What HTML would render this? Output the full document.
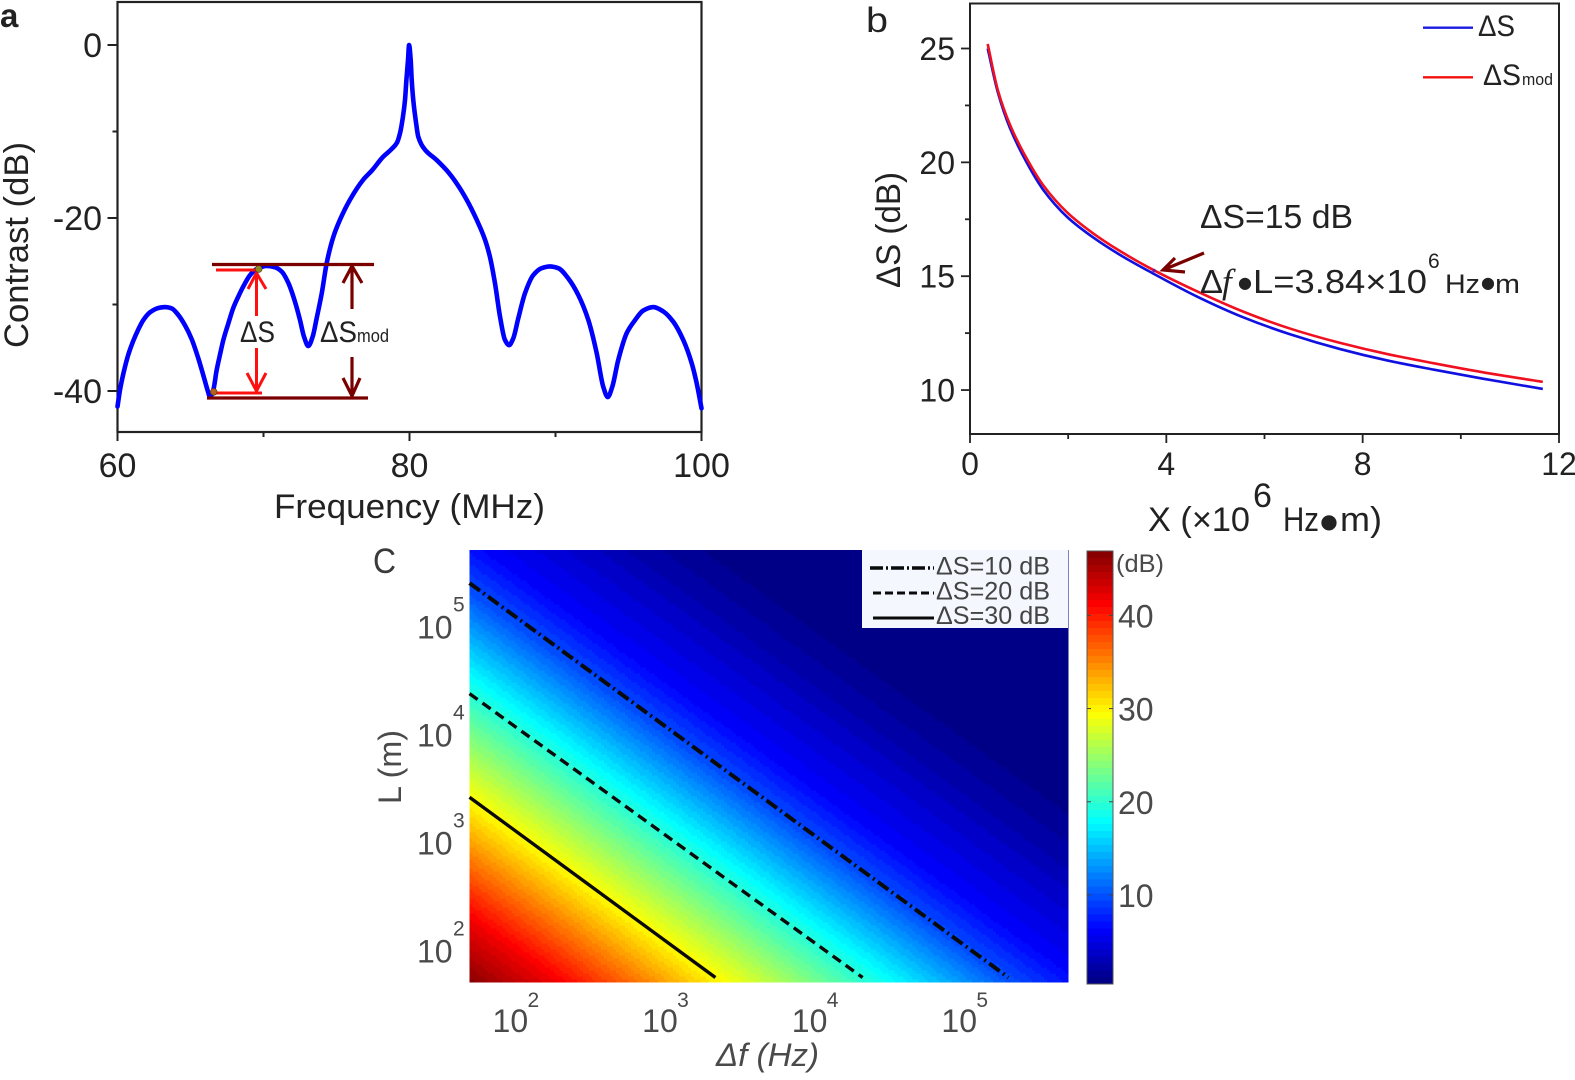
<!DOCTYPE html>
<html lang="en">
<head>
<meta charset="utf-8">
<title>Contrast, delta S and heatmap figure</title>
<style>
html,body{margin:0;padding:0;background:#fff;}
svg{display:block;font-family:"Liberation Sans",sans-serif;}
.dot{font-family:"DejaVu Sans",sans-serif;}
</style>
</head>
<body>
<svg id="fig" xmlns="http://www.w3.org/2000/svg" width="1575" height="1080" viewBox="0 0 1575 1080">
  <rect x="0" y="0" width="1575" height="1080" fill="#ffffff"/>
  <g id="panelA"></g>
  <g id="panelB"></g>
  <g id="panelC"></g>

  <g fill="#222">
    <text x="0" y="27" font-size="33" font-weight="bold">a</text>
    <text x="274" y="518" font-size="34" textLength="271" lengthAdjust="spacingAndGlyphs">Frequency (MHz)</text>
    <text transform="translate(28,348) rotate(-90)" font-size="34" textLength="206" lengthAdjust="spacingAndGlyphs">Contrast (dB)</text>
    <text x="240" y="342" font-size="30" textLength="35" lengthAdjust="spacingAndGlyphs">ΔS</text>
    <text x="320" y="342" font-size="30" textLength="37" lengthAdjust="spacingAndGlyphs">ΔS</text>
    <text x="357" y="342" font-size="18" textLength="32" lengthAdjust="spacingAndGlyphs">mod</text>
  </g>

  <g fill="none" stroke-linecap="butt">
    <g stroke="#7a0000" stroke-width="3.2">
      <line x1="212" y1="264.5" x2="374" y2="264.5"/>
      <line x1="207" y1="398" x2="368" y2="398"/>
      <path d="M352 309V266M343 283L352 266L362 283"/>
      <path d="M352 357V396M343 378L352 396L360 378"/>
    </g>
    <g stroke="#ff1010" stroke-width="3">
      <line x1="216" y1="270" x2="258" y2="270"/>
      <line x1="213" y1="393" x2="262" y2="393"/>
      <path d="M256.5 316V273M248 289L256.5 273L266 289"/>
      <path d="M256.5 348V391M247 373L256.5 391L266 373"/>
    </g>
  </g>

  <g fill="#222">
    <text x="866" y="32" font-size="35" textLength="22" lengthAdjust="spacingAndGlyphs">b</text>
    <text transform="translate(900,288) rotate(-90)" font-size="34" textLength="116" lengthAdjust="spacingAndGlyphs">ΔS (dB)</text>
    <text x="1148" y="531" font-size="34" textLength="102" lengthAdjust="spacingAndGlyphs">X (×10</text>
    <text x="1253" y="507" font-size="34">6</text>
    <text x="1283" y="531" font-size="34" textLength="36" lengthAdjust="spacingAndGlyphs">Hz</text>
    <text class="dot" x="1329" y="528" font-size="20" text-anchor="middle">●</text>
    <text x="1340" y="531" font-size="34" textLength="42" lengthAdjust="spacingAndGlyphs">m)</text>
    <text x="1200" y="228" font-size="33" textLength="153" lengthAdjust="spacingAndGlyphs">ΔS=15 dB</text>
    <text x="1200" y="293" font-size="33" textLength="23" lengthAdjust="spacingAndGlyphs">Δ</text>
    <text x="1222" y="293" font-size="35" font-style="italic" font-family="Liberation Serif, serif">f</text>
    <text class="dot" x="1245" y="288" font-size="16" text-anchor="middle">●</text>
    <text x="1253" y="293" font-size="33" textLength="174" lengthAdjust="spacingAndGlyphs">L=3.84×10</text>
    <text x="1428" y="268" font-size="21">6</text>
    <text x="1445" y="293" font-size="27" textLength="35" lengthAdjust="spacingAndGlyphs">Hz</text>
    <text class="dot" x="1488" y="288" font-size="16" text-anchor="middle">●</text>
    <text x="1495" y="293" font-size="27" textLength="25" lengthAdjust="spacingAndGlyphs">m</text>
    <text x="1478" y="36" font-size="30" textLength="37" lengthAdjust="spacingAndGlyphs">ΔS</text>
    <text x="1483" y="85" font-size="30" textLength="38" lengthAdjust="spacingAndGlyphs">ΔS</text>
    <text x="1522" y="85" font-size="17" textLength="31" lengthAdjust="spacingAndGlyphs">mod</text>
  </g>
  <g>
    <line x1="1423" y1="27.7" x2="1473" y2="27.7" stroke="#1a1ae0" stroke-width="2.4"/>
    <line x1="1423" y1="77.3" x2="1473" y2="77.3" stroke="#f01010" stroke-width="2.4"/>
    <path d="M1204 253L1163 270M1175 258L1163 270L1185 272" fill="none" stroke="#7a0000" stroke-width="3.2"/>
  </g>

  <g fill="#4a4a4a">
    <text x="373" y="573" font-size="35" textLength="23" lengthAdjust="spacingAndGlyphs" fill="#3a3a3a">C</text>
    <text transform="translate(401,804) rotate(-90)" font-size="32" textLength="74" lengthAdjust="spacingAndGlyphs">L (m)</text>
    <text x="716" y="1066" font-size="32" font-style="italic" textLength="103" lengthAdjust="spacingAndGlyphs">Δf (Hz)</text>
    <text x="1116" y="572" font-size="25" textLength="48" lengthAdjust="spacingAndGlyphs">(dB)</text>
  </g>

  <script>
    // ---------- Panel a data ----------
    const contrastFrequency = [
      60,60.17,60.4,60.74,61.08,61.42,61.77,62.23,62.8,63.25,63.71,64.16,64.62,65.08,65.53,65.88,66.22,66.32,66.56,66.79,
      67.02,67.25,67.59,67.93,68.27,68.62,69.08,69.53,70.22,70.79,71.25,71.7,72.16,72.5,72.77,73.07,73.37,73.64,73.99,74.33,
      74.78,75.24,75.92,76.82,77.43,78.18,78.73,79.14,79.35,79.55,79.69,79.79,79.9,79.97,80.08,80.15,80.26,80.45,80.6,81.06,
      81.86,82.55,83.23,83.92,84.6,85.17,85.51,85.86,86.2,86.54,86.82,87.11,87.45,87.91,88.48,89.05,89.62,90.19,90.88,91.56,
      92.25,92.82,93.27,93.58,93.89,94.3,94.88,95.45,96.01,96.7,97.38,98.07,98.75,99.33,99.67,100
    ];
    const contrastDb = [
      -41.8,-39.9,-38,-35.8,-34.2,-32.9,-31.8,-30.9,-30.4,-30.3,-30.45,-31.2,-32.4,-34,-36.2,-38.2,-40.2,-40.7,-39.9,-37.6,
      -35.8,-34.1,-32.2,-30.4,-29.1,-27.9,-26.6,-25.9,-25.55,-25.7,-26.2,-27.5,-29.7,-31.8,-33.7,-34.8,-33.7,-31.6,-28.7,-25.2,
      -22.2,-20.2,-17.9,-15.6,-14.5,-12.95,-12.1,-11.3,-10.2,-8.3,-6.4,-4,-1.7,0,-1.7,-4,-6.4,-9,-10.6,-12.1,
      -13.3,-14.5,-16,-17.9,-20.2,-22.5,-24.5,-27.6,-31.4,-34.1,-34.7,-33.9,-31.6,-28.7,-26.6,-25.8,-25.6,-25.8,-27,-28.9,
      -31.8,-35.6,-39.5,-40.7,-39.5,-36.4,-33.3,-31.8,-30.7,-30.3,-30.8,-32,-34.1,-36.8,-39.1,-42
    ];
    const contrastMarkerFrequency = [69.67, 66.59];
    const contrastMarkerDb = [-25.9, -40.1];
    const panelAXTicks = [60, 80, 100];
    const panelAXMinorTicks = [70, 90];
    const panelAYTicks = [0, -20, -40];
    const panelAYMinorTicks = [-10, -30];

    // ---------- Panel b data ----------
    const deltaSX = [0.36,0.57,0.815,1.16,1.49,1.98,2.51,3.06,3.73,4.63,5.56,6.52,7.54,8.5,9.44,10.45,11.67];
    const deltaSValues = [25,23.05,21.5,19.97,18.8,17.6,16.7,15.93,15.12,14.1,13.2,12.45,11.8,11.3,10.9,10.5,10.05];
    const deltaSModValues = [25.2,23.15,21.65,20.15,19.0,17.8,16.88,16.1,15.28,14.33,13.45,12.7,12.07,11.58,11.18,10.78,10.36];
    const highlightX = [3.75];
    const highlightS = [15.25];
    const panelBXTicks = [0, 4, 8, 12];
    const panelBXMinorTicks = [2, 6, 10];
    const panelBYTicks = [25, 20, 15, 10];
    const panelBYMinorTicks = [22.5, 17.5, 12.5];

    // ---------- Panel c data ----------
    const heatProductDecade = [3.4, 4, 5, 6, 7, 7.5, 8, 8.28, 8.5, 9, 9.5, 11.4];
    const heatDeltaS = [46.5, 41.5, 30.5, 20.3, 10, 6.2, 4.3, 3.3, 2.4, 1.0, 0.6, 0.4];
    const contour10Df = [50, 200000];
    const contour10L = [247000, 55];
    const contour20Df = [50, 21200];
    const contour20L = [23400, 55];
    const contour30Df = [50, 2200];
    const contour30L = [2570, 55];
    const panelCXTicks = [100, 1000, 10000, 100000];
    const panelCXTickExponents = ['2', '3', '4', '5'];
    const panelCYTicks = [100, 1000, 10000, 100000];
    const panelCYTickExponents = ['2', '3', '4', '5'];
    const colorbarTicks = [10, 20, 30, 40];
    const legendEntries = ['ΔS=10 dB', 'ΔS=20 dB', 'ΔS=30 dB'];

    const NS = 'http://www.w3.org/2000/svg';
    function el(parent, tag, attrs) {
      const e = document.createElementNS(NS, tag);
      for (const k in attrs) e.setAttribute(k, attrs[k]);
      parent.appendChild(e);
      return e;
    }
    // Monotone cubic (PCHIP) path through points ordered by x
    function smoothPath(pts) {
      const n = pts.length;
      const h = [], d = [], m = new Array(n);
      for (let i = 0; i < n - 1; i++) {
        h[i] = pts[i + 1][0] - pts[i][0];
        d[i] = (pts[i + 1][1] - pts[i][1]) / h[i];
      }
      m[0] = d[0];
      m[n - 1] = d[n - 2];
      for (let i = 1; i < n - 1; i++) {
        if (d[i - 1] * d[i] <= 0) {
          m[i] = 0;
        } else {
          const w1 = 2 * h[i] + h[i - 1], w2 = h[i] + 2 * h[i - 1];
          m[i] = (w1 + w2) / (w1 / d[i - 1] + w2 / d[i]);
        }
      }
      let s = 'M' + pts[0][0].toFixed(2) + ' ' + pts[0][1].toFixed(2);
      for (let i = 0; i < n - 1; i++) {
        const t = h[i] / 3;
        s += 'C' + (pts[i][0] + t).toFixed(2) + ' ' + (pts[i][1] + m[i] * t).toFixed(2) + ' ' +
             (pts[i + 1][0] - t).toFixed(2) + ' ' + (pts[i + 1][1] - m[i + 1] * t).toFixed(2) + ' ' +
             pts[i + 1][0].toFixed(2) + ' ' + pts[i + 1][1].toFixed(2);
      }
      return s;
    }

    // ---------- Panel a ----------
    const gA = document.getElementById('panelA');
    const axA = {l: 117.5, r: 701.5, t: 2, b: 432};
    const ax = f => axA.l + (f - 60) / 40 * (axA.r - axA.l);
    const ay = v => 45 - v * 8.65;

    const frameA = el(gA, 'rect', {x: axA.l, y: axA.t, width: axA.r - axA.l, height: axA.b - axA.t, fill: 'none', stroke: '#222', 'stroke-width': 2.2});
    
    

    panelAXTicks.forEach(v => {
      const t = el(gA, 'line', {x1: ax(v), x2: ax(v), y1: axA.b, y2: axA.b + 9, stroke: '#222', 'stroke-width': 2});
      
      
      const l = el(gA, 'text', {x: ax(v), y: 477, 'text-anchor': 'middle', 'font-size': 34, fill: '#222'});
      
      
      l.textContent = String(v);
    });
    panelAXMinorTicks.forEach(v => {
      const t = el(gA, 'line', {x1: ax(v), x2: ax(v), y1: axA.b, y2: axA.b + 5, stroke: '#222', 'stroke-width': 2});
      
      
    });
    panelAYTicks.forEach(v => {
      const t = el(gA, 'line', {x1: axA.l - 10, x2: axA.l, y1: ay(v), y2: ay(v), stroke: '#222', 'stroke-width': 2});
      
      
      const l = el(gA, 'text', {x: 102, y: ay(v) + 12, 'text-anchor': 'end', 'font-size': 34, fill: '#222'});
      
      
      l.textContent = String(v);
    });
    panelAYMinorTicks.forEach(v => {
      const t = el(gA, 'line', {x1: axA.l - 5, x2: axA.l, y1: ay(v), y2: ay(v), stroke: '#222', 'stroke-width': 2});
      
      
    });

    const contrastLine = el(gA, 'path', {
      d: smoothPath(contrastFrequency.map((f, i) => [ax(f), ay(contrastDb[i])])),
      fill: 'none', stroke: '#0000ff', 'stroke-width': 4.6, 'stroke-linejoin': 'round', 'stroke-linecap': 'round'
    });
    
    

    // ---------- Panel b ----------
    const gB = document.getElementById('panelB');
    const axB = {l: 970, r: 1559, t: 3.5, b: 434};
    const bx = v => axB.l + v / 12 * (axB.r - axB.l);
    const by = v => 48.5 + (25 - v) * 22.77;

    const frameB = el(gB, 'rect', {x: axB.l, y: axB.t, width: axB.r - axB.l, height: axB.b - axB.t, fill: 'none', stroke: '#222', 'stroke-width': 2});
    
    

    panelBXTicks.forEach(v => {
      const t = el(gB, 'line', {x1: bx(v), x2: bx(v), y1: axB.b, y2: axB.b + 9, stroke: '#222', 'stroke-width': 1.8});
      
      
      const l = el(gB, 'text', {x: bx(v), y: 475, 'text-anchor': 'middle', 'font-size': 32, fill: '#222'});
      
      
      l.textContent = String(v);
    });
    panelBXMinorTicks.forEach(v => {
      const t = el(gB, 'line', {x1: bx(v), x2: bx(v), y1: axB.b, y2: axB.b + 5, stroke: '#222', 'stroke-width': 1.8});
      
      
    });
    panelBYTicks.forEach(v => {
      const t = el(gB, 'line', {x1: axB.l - 9, x2: axB.l, y1: by(v), y2: by(v), stroke: '#222', 'stroke-width': 1.8});
      
      
      const l = el(gB, 'text', {x: 955, y: by(v) + 11.5, 'text-anchor': 'end', 'font-size': 32, fill: '#222'});
      
      
      l.textContent = String(v);
    });
    panelBYMinorTicks.forEach(v => {
      const t = el(gB, 'line', {x1: axB.l - 5, x2: axB.l, y1: by(v), y2: by(v), stroke: '#222', 'stroke-width': 1.8});
      
      
    });

    const seriesBlue = el(gB, 'path', {d: smoothPath(deltaSX.map((x, i) => [bx(x), by(deltaSValues[i])])), fill: 'none', stroke: '#1010e0', 'stroke-width': 2.6});
    
    
    const seriesRed = el(gB, 'path', {d: smoothPath(deltaSX.map((x, i) => [bx(x), by(deltaSModValues[i])])), fill: 'none', stroke: '#f01020', 'stroke-width': 2.6});
    
    
    highlightX.forEach((x, i) => {
      const p = el(gB, 'circle', {cx: bx(x), cy: by(highlightS[i]), r: 1.8, fill: '#7a1a9a'});
      
      
    });

    // ---------- Panel c ----------
    const gC = document.getElementById('panelC');
    const axC = {l: 469.5, r: 1068, t: 550, b: 982};
    const LOG_MIN = Math.log10(50);
    const LOG_SPAN = 4;
    const cx = v => axC.l + (Math.log10(v) - LOG_MIN) / LOG_SPAN * (axC.r - axC.l);
    const cy = v => axC.b - (Math.log10(v) - LOG_MIN) / LOG_SPAN * (axC.b - axC.t);

    function jet(t) {
      t = Math.max(0, Math.min(1, t));
      const r = Math.max(0, Math.min(1, Math.min(4 * t - 1.5, -4 * t + 4.5)));
      const g = Math.max(0, Math.min(1, Math.min(4 * t - 0.5, -4 * t + 3.5)));
      const b = Math.max(0, Math.min(1, Math.min(4 * t + 0.5, -4 * t + 2.5)));
      return 'rgb(' + Math.round(r * 255) + ',' + Math.round(g * 255) + ',' + Math.round(b * 255) + ')';
    }
    const BAR_MIN = 0.45, BAR_MAX = 46.9, BAND = 0.75;
    const colorOf = s => jet((Math.round(s / BAND) * BAND - BAR_MIN) / (BAR_MAX - BAR_MIN));
    function lookupDeltaS(dec) {
      const xs = heatProductDecade, ys = heatDeltaS;
      if (dec <= xs[0]) return ys[0];
      for (let i = 1; i < xs.length; i++) {
        if (dec <= xs[i]) return ys[i - 1] + (ys[i] - ys[i - 1]) * (dec - xs[i - 1]) / (xs[i] - xs[i - 1]);
      }
      return ys[ys.length - 1];
    }

    const heatGroup = el(gC, 'g', {'shape-rendering': 'crispEdges'});
    
    
    const COLS = 200, ROWS = 144;
    for (let r = 0; r < ROWS; r++) {
      for (let c = 0; c < COLS; c++) {
        const decX = LOG_MIN + (c + 0.5) / COLS * LOG_SPAN;
        const decY = LOG_MIN + (r + 0.5) / ROWS * LOG_SPAN;
        const cellW = (axC.r - axC.l) / COLS, cellH = (axC.b - axC.t) / ROWS;
        const cell = el(heatGroup, 'rect', {
          x: (axC.l + c * cellW).toFixed(2), y: (axC.b - (r + 1) * cellH).toFixed(2),
          width: (cellW + 0.6).toFixed(2), height: (cellH + 0.6).toFixed(2),
          fill: colorOf(lookupDeltaS(decX + decY))
        });
        
        
      }
    }

    function drawContour(dfs, ls, name, dash, width) {
      const line = el(gC, 'line', {
        x1: cx(dfs[0]), y1: cy(ls[0]), x2: cx(dfs[1]), y2: cy(ls[1]),
        stroke: '#0a0a0a', 'stroke-width': width, 'stroke-dasharray': dash
      });
      
      
    }
    drawContour(contour10Df, contour10L, 'contour-10db', '13 4 2 4', 4);
    drawContour(contour20Df, contour20L, 'contour-20db', '10 6', 3.4);
    drawContour(contour30Df, contour30L, 'contour-30db', 'none', 3.4);

    panelCXTicks.forEach((v, i) => {
      const t = el(gC, 'text', {x: cx(v) - 22, y: 1032, 'font-size': 32, fill: '#4a4a4a'});
      
      
      t.textContent = '10';
      const e = el(gC, 'text', {x: cx(v) + 13, y: 1007, 'font-size': 21, fill: '#4a4a4a'});
      
      
      e.textContent = panelCXTickExponents[i];
    });
    panelCYTicks.forEach((v, i) => {
      const t = el(gC, 'text', {x: 417, y: cy(v) + 13, 'font-size': 32, fill: '#4a4a4a'});
      
      
      t.textContent = '10';
      const e = el(gC, 'text', {x: 453, y: cy(v) - 14, 'font-size': 21, fill: '#4a4a4a'});
      
      
      e.textContent = panelCYTickExponents[i];
    });

    // legend box
    const legendBox = el(gC, 'rect', {x: 862, y: 550, width: 206, height: 78, fill: '#f4f7fd'});
    
    
    const legendStyles = [['13 3 2 3', 870, 3.4], ['8 4', 873, 3], ['none', 873, 3]];
    legendEntries.forEach((txt, i) => {
      const yLine = 568 + i * 25;
      const ln = el(gC, 'line', {x1: legendStyles[i][1], x2: 934, y1: yLine, y2: yLine, stroke: '#0a0a0a', 'stroke-width': legendStyles[i][2], 'stroke-dasharray': legendStyles[i][0]});
      
      
      const lb = el(gC, 'text', {x: 936, y: 574.5 + i * 24.8, 'font-size': 25, fill: '#444', textLength: 114, lengthAdjust: 'spacingAndGlyphs'});
      
      
      lb.textContent = txt;
    });

    // colorbar
    const barL = 1087, barR = 1113, barT = 551, barB = 984;
    const barY = v => barB - (v - BAR_MIN) / (BAR_MAX - BAR_MIN) * (barB - barT);
    const barGroup = el(gC, 'g', {'shape-rendering': 'crispEdges'});
    
    
    for (let s = BAR_MIN; s < BAR_MAX; s += BAND) {
      const seg = el(barGroup, 'rect', {x: barL, y: barY(s + BAND).toFixed(2), width: barR - barL, height: (barY(s) - barY(s + BAND) + 0.6).toFixed(2), fill: colorOf(s + BAND / 2)});
      
      
    }
    const barFrame = el(gC, 'rect', {x: barL, y: barT, width: barR - barL, height: barB - barT, fill: 'none', stroke: '#555', 'stroke-width': 1});
    
    
    colorbarTicks.forEach(v => {
      const t1 = el(gC, 'line', {x1: barL, x2: barL + 4, y1: barY(v), y2: barY(v), stroke: '#444', 'stroke-width': 1});
      
      
      const t2 = el(gC, 'line', {x1: barR - 4, x2: barR, y1: barY(v), y2: barY(v), stroke: '#444', 'stroke-width': 1});
      
      
      const l = el(gC, 'text', {x: 1118, y: barY(v) + 12, 'font-size': 32, fill: '#4a4a4a'});
      
      
      l.textContent = String(v);
    });

    // markers on top of annotations in panel a
    const topLayer = document.getElementById('fig');
    contrastMarkerFrequency.forEach((f, i) => {
      const m = el(topLayer, 'circle', {cx: ax(f), cy: ay(contrastMarkerDb[i]), r: 3.4, fill: i === 0 ? '#8a8a20' : '#b06020', stroke: '#5a3000', 'stroke-width': 0.6});
      
      
    });
  </script>
</svg>
</body>
</html>
